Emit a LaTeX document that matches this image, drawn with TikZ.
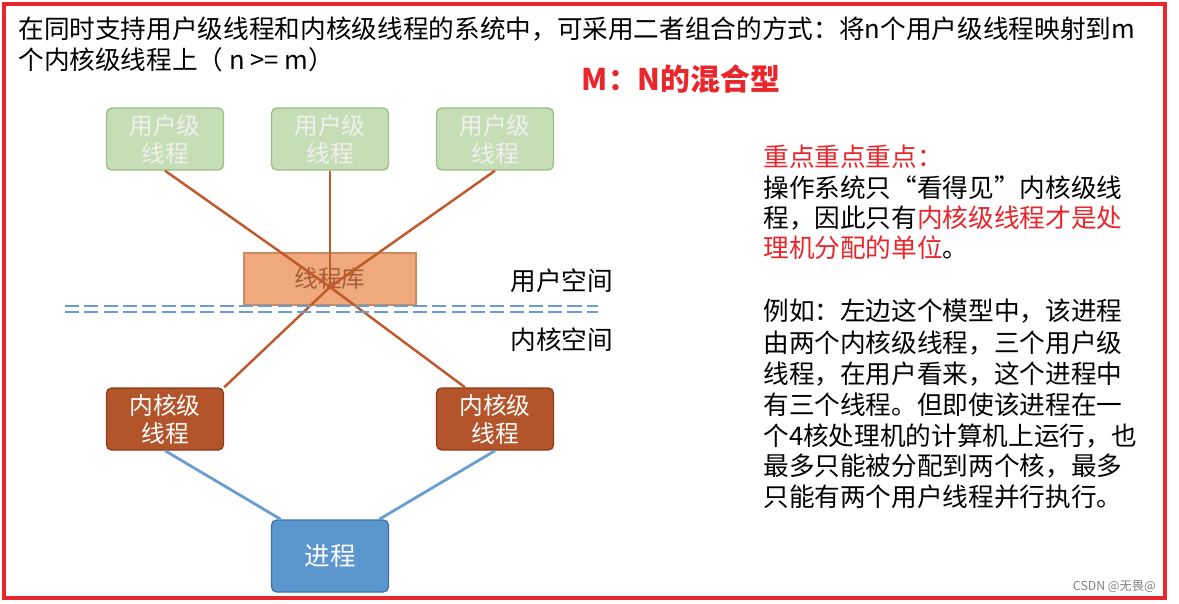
\documentclass[tikz,border=0pt]{standalone}
\usepackage{fontspec}
\newfontfamily\cjk{Noto Sans CJK SC}
\definecolor{ured}{HTML}{E8262B}
\definecolor{ugreen}{HTML}{C5DEB5}
\definecolor{ugreenb}{HTML}{9DBF8A}
\definecolor{lib}{HTML}{F0A97C}
\definecolor{libb}{HTML}{C98A5E}
\definecolor{kern}{HTML}{B4542A}
\definecolor{kernb}{HTML}{8A3E1E}
\definecolor{proc}{HTML}{5B96CE}
\definecolor{procb}{HTML}{3F73A6}
\definecolor{brn}{HTML}{C05A2C}
\definecolor{bln}{HTML}{6A9ED3}
\tikzset{
 txt/.style={font=\cjk\fontsize{14.6}{17}\selectfont, anchor=west, inner sep=0pt, text=black},
 rt/.style={font=\cjk\fontsize{14.6}{17}\selectfont, anchor=west, inner sep=0pt, text=black},
 box/.style={rounded corners=3pt, line width=0.8pt, align=center, font=\cjk\fontsize{13.5}{16}\selectfont, text width=2.1cm},
 ubox/.style={box, fill=ugreen, draw=ugreenb, text=white!88!gray, minimum width=2.34cm, minimum height=1.24cm},
 kbox/.style={box, fill=kern, draw=kernb, text=white, minimum width=2.34cm, minimum height=1.24cm},
 brl/.style={brn, line width=1.4pt},
 bll/.style={bln, line width=1.6pt}
}
\begin{document}
\begin{tikzpicture}[x=0.02cm,y=-0.02cm]
\useasboundingbox (0,0) rectangle (1179,603);
\fill[white] (0,0) rectangle (1179,603);
\draw[ured, line width=2.2pt] (4,4) rectangle (1165,598);
\node[txt] (l1) at (18,29) {在同时支持用户级线程和内核级线程的系统中，可采用二者组合的方式：将n个用户级线程映射到m};
\node[txt] (l2) at (18,60) {个内核级线程上（ n >= m）};
\node[font=\cjk\bfseries\fontsize{17}{20}\selectfont, text=ured] (title) at (681,79) {M：N的混合型};
% boxes
\node[ubox] (u1) at (165,139) {用户级\\线程};
\node[ubox] (u2) at (330,139) {用户级\\线程};
\node[ubox] (u3) at (495,139) {用户级\\线程};
\node[box, fill=lib, draw=libb, text=kernb!70!lib, minimum width=3.44cm, minimum height=1.04cm, text width=3cm, rounded corners=0pt] (lib) at (330,279) {线程库};
\coordinate (c) at (330,287);
\node[kbox] (k1) at (165,419) {内核级\\线程};
\node[kbox] (k2) at (495,419) {内核级\\线程};
\node[box, fill=proc, draw=procb, text=white, minimum width=2.34cm, minimum height=1.44cm, font=\cjk\fontsize{14.5}{17}\selectfont] (p) at (330,556) {进程};
% connectors
\draw[brl] (u1.south) -- (c);
\draw[brl] (u2.south) -- (c);
\draw[brl] (u3.south) -- (c);
\draw[brl] (c) -- (k1.north east);
\draw[brl] (c) -- ([xshift=-0.6cm]k2.north);
\draw[bll] (k1.south) -- ([xshift=0.2cm]p.north west);
\draw[bll] (k2.south) -- ([xshift=-0.2cm]p.north east);
% dashed double line
\coordinate (d1) at (65,306); \coordinate (d2) at (598,306);
\coordinate (d3) at (65,312); \coordinate (d4) at (598,312);
\draw[bln, line width=1.3pt, dash pattern=on 8pt off 3pt] (d1) -- (d2);
\draw[bln, line width=1.3pt, dash pattern=on 8pt off 3pt] (d3) -- (d4);
\node[rt] (us) at (510,281) {用户空间};
\node[rt] (ks) at (510,340) {内核空间};
% right text
\node[rt, text=ured] (r0) at (763,157) {重点重点重点：};
\node[rt] (r1) at (763,188) {操作系统只“看得见”内核级线};
\node[rt] (r2) at (763,218) {程，因此只有\textcolor{ured}{内核级线程才是处}};
\node[rt, text=ured] (r3) at (763,248) {理机分配的单位\textcolor{black}{。}};
\node[rt] (r4) at (763,311) {例如：左边这个模型中，该进程};
\node[rt] (r5) at (763,343) {由两个内核级线程，三个用户级};
\node[rt] (r6) at (763,374) {线程，在用户看来，这个进程中};
\node[rt] (r7) at (763,405) {有三个线程。但即使该进程在一};
\node[rt] (r8) at (763,436) {个4核处理机的计算机上运行，也};
\node[rt] (r9) at (763,466) {最多只能被分配到两个核，最多};
\node[rt] (r10) at (763,497) {只能有两个用户线程并行执行。};
\node[font=\cjk\fontsize{7}{8}\selectfont, text=gray, anchor=east] (wm) at (1162,587) {CSDN @无畏@};
\end{tikzpicture}
\end{document}
